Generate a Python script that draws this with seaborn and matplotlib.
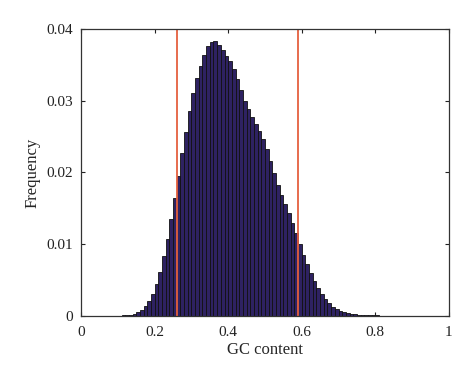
import matplotlib
matplotlib.use("Agg")
import matplotlib.pyplot as plt
from matplotlib.ticker import FuncFormatter
import seaborn as sns
import numpy as np
import pandas as pd

# Bin left edges (width 0.01) and the frequency
bin_width = 0.01
bin_left = np.round(np.arange(0, 1.0, bin_width), 2)
freq = [
    0.00001, 0.00001, 0.00001, 0.00001, 0.00001,   # 0.00-0.04
    0.00002, 0.00003, 0.00004, 0.00005, 0.00006,   # 0.05-0.09
    0.00008, 0.00010, 0.00015, 0.00022, 0.00032,   # 0.10-0.14
    0.00055, 0.00090, 0.00140, 0.00210, 0.00310,   # 0.15-0.19
    0.00450, 0.00620, 0.00830, 0.01070, 0.01350,   # 0.20-0.24
    0.01650, 0.01950, 0.02270, 0.02560, 0.02850,   # 0.25-0.29
    0.03100, 0.03320, 0.03480, 0.03640, 0.03760,   # 0.30-0.34
    0.03820, 0.03830, 0.03780, 0.03700, 0.03620,   # 0.35-0.39
    0.03550, 0.03440, 0.03300, 0.03150, 0.03000,   # 0.40-0.44
    0.02880, 0.02770, 0.02670, 0.02580, 0.02460,   # 0.45-0.49
    0.02330, 0.02160, 0.01990, 0.01830, 0.01690,   # 0.50-0.54
    0.01560, 0.01430, 0.01300, 0.01160, 0.01010,   # 0.55-0.59
    0.00850, 0.00720, 0.00600, 0.00490, 0.00390,   # 0.60-0.64
    0.00310, 0.00240, 0.00180, 0.00130, 0.00100,   # 0.65-0.69
    0.00075, 0.00055, 0.00040, 0.00033, 0.00027,   # 0.70-0.74
    0.00022, 0.00018, 0.00015, 0.00012, 0.00010,   # 0.75-0.79
    0.00009, 0.00008, 0.00007, 0.00006, 0.00005,   # 0.80-0.84
    0.00004, 0.00004, 0.00003, 0.00003, 0.00002,   # 0.85-0.89
    0.00002, 0.00001, 0.00001, 0.00001, 0.0,       # 0.90-0.94
    0.0, 0.0, 0.0, 0.0, 0.0,                       # 0.95-0.99
]
cutoffs = [0.26, 0.59]
x_ticks = [0, 0.2, 0.4, 0.6, 0.8, 1]
y_ticks = [0, 0.01, 0.02, 0.03, 0.04]

df = pd.DataFrame({"gc": bin_left + bin_width / 2, "freq": freq})

sns.set_style("ticks")
plt.rcParams["font.family"] = ["Liberation Serif", "DejaVu Serif"]

fig = plt.figure(figsize=(4.74, 3.79), dpi=100)
ax = fig.add_axes([0.171, 0.166, 0.776, 0.758])

sns.histplot(data=df, x="gc", weights="freq",
             binwidth=bin_width, binrange=(0, 1),
             color="#2e2262", edgecolor="#111111", linewidth=0.6,
             alpha=1.0, ax=ax)

for c in cutoffs:
    ax.axvline(c, color="#e5603f", linewidth=1.3)

ax.set_xlim(0, 1)
ax.set_ylim(0, 0.04)
ax.set_xticks(x_ticks)
ax.set_yticks(y_ticks)
ax.xaxis.set_major_formatter(FuncFormatter(lambda v, p: f"{v:g}"))
ax.yaxis.set_major_formatter(FuncFormatter(lambda v, p: f"{v:g}"))
ax.tick_params(direction="in", length=3, width=0.8, top=True, right=True,
               labelsize=11, colors="#222222")
ax.tick_params(axis="x", pad=7)
ax.tick_params(axis="y", pad=6)
for s in ax.spines.values():
    s.set_visible(True)
    s.set_color("#333333")
    s.set_linewidth(0.9)

ax.set_xlabel("GC content", fontsize=12, labelpad=2)
ax.set_ylabel("Frequency", fontsize=12, labelpad=4)

fig.savefig("out.png", dpi=100)
